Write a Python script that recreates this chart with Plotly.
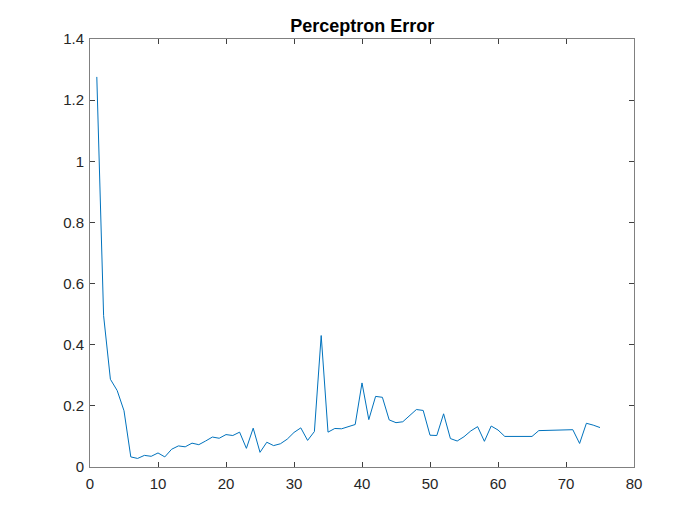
import plotly.graph_objects as go

# error per epoch
epochs = list(range(1, 76))
error = [
    1.276, 0.495, 0.287, 0.250, 0.184, 0.033, 0.028, 0.038, 0.035, 0.046,
    0.033, 0.058, 0.069, 0.066, 0.078, 0.073, 0.085, 0.098, 0.094, 0.106,
    0.103, 0.114, 0.061, 0.127, 0.048, 0.081, 0.070, 0.076, 0.091, 0.113,
    0.128, 0.087, 0.116, 0.430, 0.114, 0.126, 0.125, 0.132, 0.139, 0.275,
    0.155, 0.231, 0.228, 0.154, 0.145, 0.148, 0.168, 0.188, 0.185, 0.104,
    0.103, 0.174, 0.093, 0.085, 0.099, 0.118, 0.132, 0.084, 0.134, 0.121,
    0.100, 0.100, 0.100, 0.100, 0.100, 0.119, 0.120, 0.121, 0.121, 0.121,
    0.122, 0.077, 0.143, 0.137, 0.129,
]
x_ticks = [0, 10, 20, 30, 40, 50, 60, 70, 80]
y_ticks = [0, 0.2, 0.4, 0.6, 0.8, 1, 1.2, 1.4]
y_labels = ["0", "0.2", "0.4", "0.6", "0.8", "1", "1.2", "1.4"]

fig = go.Figure()
fig.add_trace(go.Scatter(
    x=epochs, y=error, mode="lines",
    line=dict(color="#0072BD", width=1),
    showlegend=False,
))

axis_style = dict(
    showline=True, linecolor="#808080", linewidth=1,
    mirror="ticks", ticks="inside", ticklen=5, tickcolor="#404040",
    showgrid=False, zeroline=False,
    tickfont=dict(family="Liberation Sans, Arial", size=15, color="#262626"),
)

fig.update_layout(
    width=700, height=525,
    paper_bgcolor="white", plot_bgcolor="white",
    margin=dict(l=82, r=74, t=31, b=66),
    title=dict(
        text="<b>Perceptron Error</b>",
        x=0.506, xanchor="center", y=0.966, yanchor="middle",
        font=dict(family="Liberation Sans, Arial", size=18, color="black"),
    ),
    xaxis=dict(range=[0, 80], tickvals=x_ticks, ticklabelstandoff=3, **axis_style),
    yaxis=dict(range=[0, 1.4], tickvals=y_ticks, ticktext=y_labels,
               ticklabelstandoff=2, **axis_style),
)

fig.write_html("out.html")
